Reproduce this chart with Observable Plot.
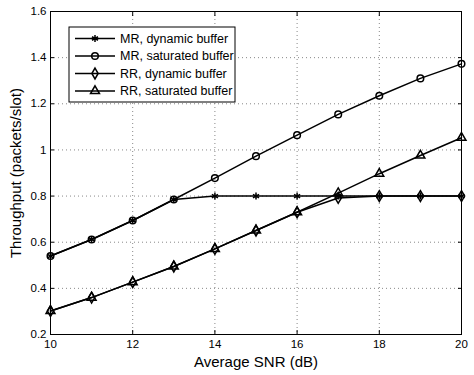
<!DOCTYPE html>
<html>
<head>
<meta charset="utf-8">
<script src="https://cdn.jsdelivr.net/npm/d3@7"></script>
<script src="https://cdn.jsdelivr.net/npm/@observablehq/plot@0.6"></script>
<style>
  html, body { margin: 0; padding: 0; background: #fff; }
  #chart svg { display: block; }
</style>
</head>
<body>
<div id="chart"></div>
<script>
// ---- data ----
const snr = [10, 11, 12, 13, 14, 15, 16, 17, 18, 19, 20];
const mrDynamic   = [0.54, 0.612, 0.694, 0.785, 0.80, 0.80, 0.80, 0.80, 0.80, 0.80, 0.80];
const mrSaturated = [0.54, 0.612, 0.694, 0.785, 0.878, 0.973, 1.064, 1.154, 1.235, 1.31, 1.373];
const rrDynamic   = [0.302, 0.36, 0.427, 0.495, 0.571, 0.651, 0.730, 0.792, 0.80, 0.80, 0.80];
const rrSaturated = [0.302, 0.36, 0.427, 0.495, 0.571, 0.651, 0.730, 0.813, 0.897, 0.976, 1.053];
const seriesNames = ["MR, dynamic buffer", "MR, saturated buffer", "RR, dynamic buffer", "RR, saturated buffer"];
const seriesSymbols = ["asterisk", "circle", "diamond", "triangle"];
const xTicks = [10, 12, 14, 16, 18, 20];
const yTicks = [0.2, 0.4, 0.6, 0.8, 1.0, 1.2, 1.4, 1.6];

const seriesValues = [mrDynamic, mrSaturated, rrDynamic, rrSaturated];
const rows = [];
seriesNames.forEach((name, s) => {
  snr.forEach((x, i) => rows.push({series: name, snr: x, value: seriesValues[s][i]}));
});

const W = 474, H = 375;
const mL = 50, mR = 13, mT = 11, mB = 41;
const R = 3.3;

const d3Sym = {asterisk: d3.symbolAsterisk, circle: d3.symbolCircle, diamond: d3.symbolDiamond, triangle: d3.symbolTriangle};

function legend() {
  const g = d3.create("svg:g").attr("text-anchor", "start");
  const bx = mL + 19, by = mT + 16, bw = 166, bh = 75;
  g.append("rect").attr("x", bx).attr("y", by).attr("width", bw).attr("height", bh)
    .attr("fill", "white").attr("stroke", "black").attr("stroke-width", 1);
  seriesNames.forEach((name, i) => {
    const cy = by + 11.5 + i * 17.5;
    g.append("line").attr("x1", bx + 6).attr("x2", bx + 46).attr("y1", cy).attr("y2", cy)
      .attr("stroke", "black").attr("stroke-width", 1.5);
    g.append("path").attr("d", d3.symbol(d3Sym[seriesSymbols[i]], R * R * Math.PI)())
      .attr("transform", `translate(${bx + 26},${cy})`)
      .attr("fill", "none").attr("stroke", "black").attr("stroke-width", 1.5);
    g.append("text").attr("x", bx + 51).attr("y", cy).attr("dy", "0.35em")
      .attr("text-anchor", "start")
      .attr("font-size", 12.5).attr("fill", "black").text(name);
  });
  return g.node();
}

const fmt = d => String(+d.toFixed(1));

const chart = Plot.plot({
  width: W, height: H,
  marginLeft: mL, marginRight: mR, marginTop: mT, marginBottom: mB,
  style: {fontFamily: "'Liberation Sans', Arial, sans-serif", fontSize: "11.5px", background: "white", color: "black"},
  x: {domain: [10, 20]},
  y: {domain: [0.2, 1.6]},
  symbol: {domain: seriesNames, range: seriesSymbols},
  marks: [
    Plot.gridX(xTicks, {stroke: "#888", strokeOpacity: 1, strokeDasharray: "1,3"}),
    Plot.gridY(yTicks, {stroke: "#888", strokeOpacity: 1, strokeDasharray: "1,3"}),
    Plot.axisX(xTicks, {tickSize: 0, tickPadding: 5, tickFormat: fmt, label: "Average SNR (dB)", labelAnchor: "center", labelArrow: "none", labelOffset: 32}),
    Plot.axisY(yTicks, {tickSize: 0, tickPadding: 4, tickFormat: fmt, label: "Throughput (packets/slot)", labelAnchor: "center", labelArrow: "none", labelOffset: 40}),
    Plot.axisX(xTicks, {anchor: "bottom", tickSize: -4, tickFormat: () => "", label: null}),
    Plot.axisX(xTicks, {anchor: "top", tickSize: -4, tickFormat: () => "", label: null}),
    Plot.axisY(yTicks, {anchor: "left", tickSize: -4, tickFormat: () => "", label: null}),
    Plot.axisY(yTicks, {anchor: "right", tickSize: -4, tickFormat: () => "", label: null}),
    Plot.frame({stroke: "black", strokeWidth: 1}),
    Plot.line(rows, {x: "snr", y: "value", z: "series", stroke: "black", strokeWidth: 1.5}),
    Plot.dot(rows, {x: "snr", y: "value", symbol: "series", r: R, stroke: "black", fill: "none", strokeWidth: 1.5}),
    legend
  ]
});

d3.select(chart).selectAll("g[aria-label='x-axis label'] text, g[aria-label='y-axis label'] text").attr("font-size", 15);
document.getElementById("chart").appendChild(chart);
</script>
</body>
</html>
